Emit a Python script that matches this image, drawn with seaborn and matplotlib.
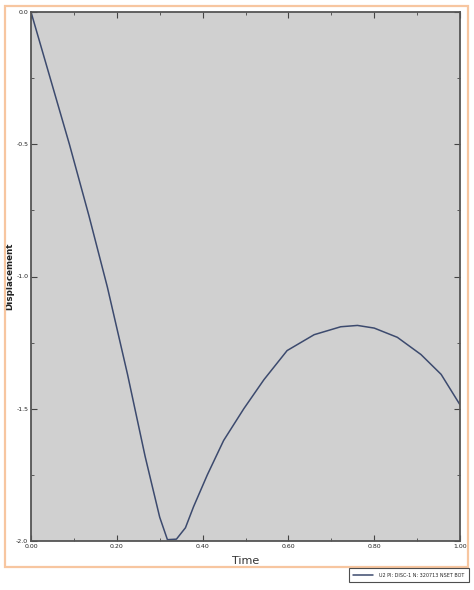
import numpy as np
import pandas as pd
import seaborn as sns
import matplotlib.pyplot as plt
from matplotlib.patches import Rectangle
from matplotlib.ticker import MultipleLocator, FormatStrFormatter

# values
time = [0.0, 0.0895, 0.135, 0.178, 0.225, 0.266, 0.280, 0.300, 0.318, 0.339,
        0.360, 0.379, 0.411, 0.449, 0.496, 0.543, 0.597, 0.660, 0.722,
        0.761, 0.800, 0.854, 0.909, 0.956, 1.0]
displacement = [0.0, -0.50, -0.77, -1.04, -1.37, -1.68, -1.775, -1.91, -1.995, -1.993,
                -1.95, -1.87, -1.75, -1.62, -1.50, -1.39, -1.28, -1.22, -1.19,
                -1.185, -1.195, -1.23, -1.295, -1.37, -1.485]
series_name = "U2 PI: DISC-1 N: 320713 NSET BOT"

df = pd.DataFrame({"Time": time, "Displacement": displacement})

sns.set_style("ticks")
plt.rcParams['font.family'] = ['DejaVu Sans']

fig = plt.figure(figsize=(4.74, 5.90), dpi=100)
fig.patch.set_facecolor("white")

# peach frame around the plot area
fig.patches.append(Rectangle((5 / 474, 23 / 590), 463 / 474, 561 / 590,
                             transform=fig.transFigure, fill=False,
                             edgecolor="#f7c6a0", linewidth=1.6, zorder=0))

ax = fig.add_axes([31 / 474, 49 / 590, 429 / 474, 529 / 590])
ax.set_facecolor("#d0d0d0")

sns.lineplot(data=df, x="Time", y="Displacement", ax=ax, color="#3c4a6e",
             linewidth=1.1, label=series_name)

ax.set_xlim(0, 1.0)
ax.set_ylim(-2.0, 0.0)
ax.xaxis.set_major_locator(MultipleLocator(0.2))
ax.xaxis.set_minor_locator(MultipleLocator(0.1))
ax.yaxis.set_major_locator(MultipleLocator(0.5))
ax.yaxis.set_minor_locator(MultipleLocator(0.25))
ax.xaxis.set_major_formatter(FormatStrFormatter("%.2f"))
ax.yaxis.set_major_formatter(FormatStrFormatter("%.1f"))

ax.tick_params(which="both", direction="in", top=True, right=True,
               colors="#444444", labelcolor="#222222")
ax.tick_params(which="major", length=4, width=0.8, labelsize=4.5, pad=2)
ax.tick_params(which="minor", length=2.5, width=0.6)

for side in ax.spines.values():
    side.set_color("#555555")
    side.set_linewidth(1.3)

ax.set_xlabel("Time", fontsize=8, color="#333333", labelpad=5)
ax.set_ylabel("Displacement", fontsize=6.3, fontweight="bold", color="#222222",
              labelpad=1)

ax.get_legend().remove()
handles, labels = ax.get_legend_handles_labels()
leg = fig.legend(handles, labels, loc="lower right",
                 bbox_to_anchor=(469 / 474, 8 / 590), fontsize=3.5,
                 frameon=True, fancybox=False, edgecolor="#222222",
                 handlelength=4.2, borderpad=0.9, handletextpad=1.2,
                 borderaxespad=0)
leg.get_frame().set_linewidth(0.8)

fig.savefig("out.png", dpi=100)
